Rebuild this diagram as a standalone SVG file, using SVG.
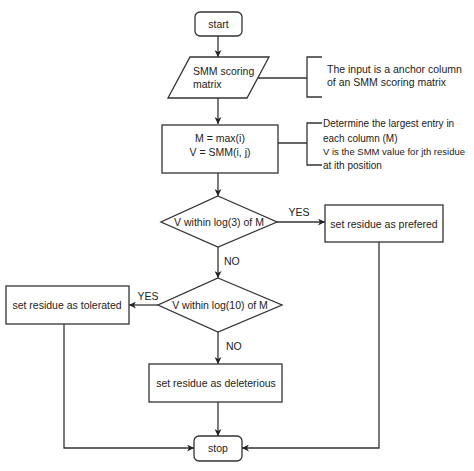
<svg xmlns="http://www.w3.org/2000/svg" width="474" height="471" viewBox="0 0 474 471">
<defs>
<style>
.s{fill:#fff;stroke:#333;stroke-width:1.3}
.l{fill:none;stroke:#333;stroke-width:1.3}
text{font-family:"Liberation Sans",Arial,sans-serif;font-size:10.5px;fill:#222}
.c{text-anchor:middle}
.n{font-size:10px}
</style>
<marker id="a" viewBox="0 0 10 10" refX="10" refY="5" markerWidth="7" markerHeight="7" orient="auto" markerUnits="userSpaceOnUse"><path d="M0,0 L10,5 L0,10 L3,5 z" fill="#222"/></marker>
</defs>
<rect width="474" height="471" fill="#fff"/>
<g id="connectors">
<path class="l" d="M218,36 V57" marker-end="url(#a)"/>
<path class="l" d="M218,98 V124" marker-end="url(#a)"/>
<path class="l" d="M218,173 V196" marker-end="url(#a)"/>
<path class="l" d="M277,222 H325" marker-end="url(#a)"/>
<path class="l" d="M218,247 V278" marker-end="url(#a)"/>
<path class="l" d="M158,305 H129" marker-end="url(#a)"/>
<path class="l" d="M218,332 V364" marker-end="url(#a)"/>
<path class="l" d="M218,402 V436" marker-end="url(#a)"/>
<path class="l" d="M64,324 V448 H194" marker-end="url(#a)"/>
<path class="l" d="M379,242 V448 H242" marker-end="url(#a)"/>
<text class="c" x="299" y="216">YES</text>
<text x="224" y="265">NO</text>
<text class="c" x="148" y="300">YES</text>
<text x="226" y="350">NO</text>
</g>
<g id="start">
<rect class="s" x="195" y="12" width="47" height="24" rx="5"/>
<text class="c" x="218.5" y="28">start</text>
</g>
<g id="input">
<path class="s" d="M190,57 H269 L247,98 H168 Z"/>
<text x="193" y="75">SMM scoring</text>
<text x="193" y="88">matrix</text>
</g>
<g id="note1">
<path class="l" d="M258,78 H307 M322,57 H307 V97 H322"/>
<text x="327" y="73">The input is a anchor column</text>
<text x="327" y="86">of an SMM scoring matrix</text>
</g>
<g id="compute">
<rect class="s" x="162" y="125" width="116" height="48"/>
<text class="c" x="220" y="142">M = max(i)</text>
<text class="c" x="220" y="156">V = SMM(i, j)</text>
</g>
<g id="note2">
<path class="l" d="M278,143 H307 M322,123 H307 V165 H322"/>
<text class="n" x="323" y="127">Determine the largest entry in</text>
<text class="n" x="323" y="142">each column (M)</text>
<text class="n" x="323" y="155" style="font-size:9.5px">V is the SMM value for jth residue</text>
<text class="n" x="323" y="169">at ith position</text>
</g>
<g id="decision1">
<path class="s" d="M218,196 L277,222 L218,247 L161,222 Z"/>
<text class="c" x="219" y="226">V within log(3) of M</text>
</g>
<g id="prefered">
<rect class="s" x="325" y="205" width="118" height="37"/>
<text class="c" x="384" y="228">set residue as prefered</text>
</g>
<g id="decision2">
<path class="s" d="M218,278 L282,305 L218,332 L158,305 Z"/>
<text class="c" x="220" y="309">V within log(10) of M</text>
</g>
<g id="tolerated">
<rect class="s" x="6" y="286" width="123" height="38"/>
<text class="c" x="67" y="309">set residue as tolerated</text>
</g>
<g id="deleterious">
<rect class="s" x="149" y="364" width="133" height="38"/>
<text class="c" x="216" y="387">set residue as deleterious</text>
</g>
<g id="stop">
<rect class="s" x="194" y="436" width="48" height="25" rx="5"/>
<text class="c" x="218" y="452">stop</text>
</g>
</svg>
